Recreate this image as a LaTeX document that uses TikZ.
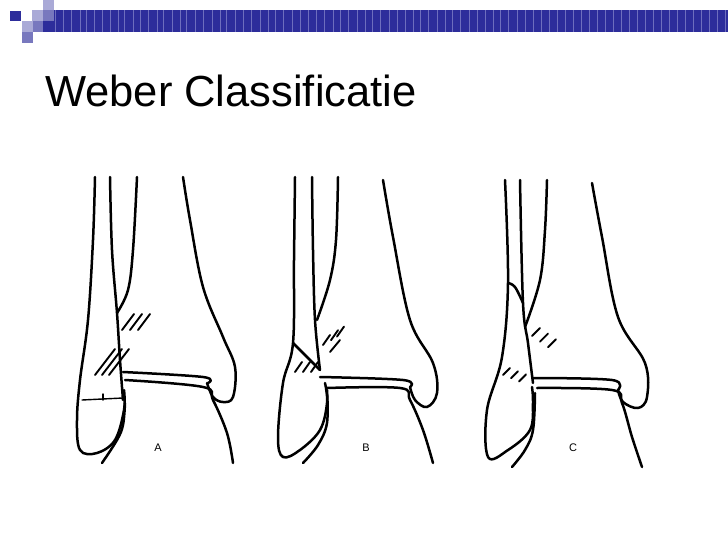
\documentclass[tikz,border=0pt]{standalone}
\usepackage{fontspec}
\setmainfont{Liberation Sans}
\begin{document}
\begin{tikzpicture}[x=1pt,y=-1pt,
  bone/.style={line width=2.5pt,line cap=round,line join=round},
  thin/.style={line width=1.4pt,line cap=round},
  hatch/.style={line width=1.9pt,line cap=round},
  lbl/.style={font=\fontsize{11}{11}\selectfont,inner sep=0pt}]
\definecolor{barblue}{RGB}{45,45,155}
\definecolor{lightsq}{RGB}{170,170,215}
\definecolor{midsq}{RGB}{120,120,190}
\definecolor{stripe}{RGB}{110,110,190}
\useasboundingbox (0,0) rectangle (728,546);
\fill[white] (0,0) rectangle (728,546);
% header
\fill[barblue] (43,10) rectangle (728,32);
\foreach \x in {55,63,71,80,86,94,102,110,118,124,133,140,148,157,163,172,180,186,195,203,212,220,226,235,243,251,260,268,275,283,292,300,308,316,324,333,340,348,357,365,372,380,389,397,405,413,420,428,437,445,452,460,469,477,485,493,500,508,517,525,533,541,549,557,565,573,581,589,597,605,613,621,629,637,645,653,661,669,677,685,693,701,709,717,725}
  \fill[stripe] (\x,10) rectangle (\x+0.6,32);
\fill[lightsq] (43,0) rectangle (54,10);
\fill[lightsq] (32,10) rectangle (43,21);
\fill[midsq] (43,10) rectangle (54,21);
\fill[lightsq] (22,21) rectangle (33,32);
\fill[midsq] (33,21) rectangle (43,32);
\fill[midsq] (22,32) rectangle (33,43);
\fill[barblue] (10,11) rectangle (21,21);
\node[anchor=base west,inner sep=0pt,font=\fontsize{43.5}{44}\selectfont] (title) at (45,106) {Weber Classificatie};
% ---- A ----
\draw[bone] plot[smooth,tension=0.6] coordinates{(95,177)(93,240)(88,320)(80,380)(77,420)(80,450)(97,453)(115,440)(124,410)(124,390)};
\draw[bone] plot[smooth,tension=0.6] coordinates{(110,177)(112,250)(117,313)(120,360)(123,400)};
\draw[bone] plot[smooth,tension=0.6] coordinates{(137,177)(133,250)(128,290)(117,313)};
\draw[bone] plot[smooth,tension=0.6] coordinates{(183,177)(190,220)(203,287)(223,337)(235,367)(233,397)(223,402)(213,397)(207,383)};
\draw[bone] plot[smooth,tension=0.6] coordinates{(123,372)(203,377)(208,383)};
\draw[bone] plot[smooth,tension=0.6] coordinates{(125,380)(203,387)(213,400)(227,433)(233,463)};
\draw[bone] plot[smooth,tension=0.6] coordinates{(125,403)(123,425)(117,440)(102,463)};
\draw[thin] (82,400) -- (123,398);
\draw[thin] (103,400) -- (103,394);
\foreach \a in {0,8,16}{\draw[hatch] (122+\a,330) -- (134+\a,314);}
\foreach \a in {0,7,14}{\draw[hatch] (95+\a,375) -- (115+\a,349);}
\node[lbl] (la) at (158,448) {A};
% ---- B ----
\draw[bone] plot[smooth,tension=0.6] coordinates{(295,177)(294,260)(293,343)(283,383)(278,437)(283,457)(300,450)(320,430)(327,403)(325,383)};
\draw[bone] plot[smooth,tension=0.6] coordinates{(312,177)(313,250)(315,320)(320,370)};
\draw[bone] (293,343) -- (320,370);
\draw[bone] plot[smooth,tension=0.6] coordinates{(338,177)(336,240)(330,280)(317,320)};
\draw[bone] plot[smooth,tension=0.6] coordinates{(383,180)(393,237)(410,320)(433,363)(437,393)(427,407)(415,400)(410,387)};
\draw[bone] plot[smooth,tension=0.6] coordinates{(320,377)(403,380)(410,387)};
\draw[bone] plot[smooth,tension=0.6] coordinates{(327,388)(400,388)(410,400)(423,430)(433,463)};
\draw[bone] plot[smooth,tension=0.6] coordinates{(327,390)(327,423)(318,445)(303,463)};
\foreach \a in {0,8,14}{\draw[hatch] (323+\a,345-\a*0.6) -- (330+\a,335-\a*0.6);}
\draw[hatch] (330,352) -- (340,340);
\foreach \a in {0,8,16}{\draw[hatch] (295+\a,372) -- (302+\a,362);}
\node[lbl] (lb) at (366,448) {B};
% ---- C ----
\draw[bone] plot[smooth,tension=0.6] coordinates{(505,180)(508,283)(502,357)(487,410)(488,457)(508,450)(530,430)(533,403)(532,387)};
\draw[bone] plot[smooth,tension=0.6] coordinates{(520,180)(523,303)(528,343)(533,383)};
\draw[bone] plot[smooth,tension=0.6] coordinates{(508,283)(515,287)(523,303)};
\draw[bone] plot[smooth,tension=0.6] coordinates{(547,180)(545,230)(540,280)(525,327)};
\draw[bone] plot[smooth,tension=0.6] coordinates{(592,183)(602,237)(618,317)(645,363)(647,397)(638,408)(623,402)(618,390)};
\draw[bone] plot[smooth,tension=0.6] coordinates{(533,378)(612,380)(618,390)};
\draw[bone] plot[smooth,tension=0.6] coordinates{(537,388)(612,390)(622,403)(632,437)(642,467)};
\draw[bone] plot[smooth,tension=0.6] coordinates{(535,393)(533,430)(525,450)(512,467)};
\foreach \a in {0,8,16}{\draw[hatch] (532+\a,336+\a*0.7) -- (540+\a,328+\a*0.7);}
\foreach \a in {0,8,16}{\draw[hatch] (503+\a,375+\a*0.4) -- (510+\a,368+\a*0.4);}
\node[lbl] (lc) at (573,448) {C};
\end{tikzpicture}
\end{document}
